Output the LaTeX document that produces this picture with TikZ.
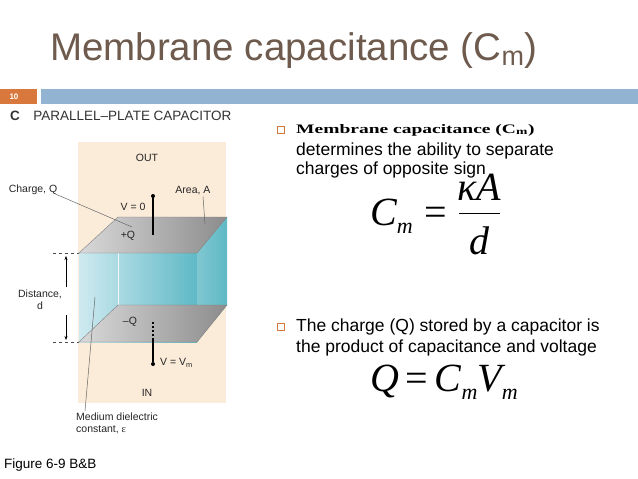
\documentclass[tikz,border=0pt]{standalone}
\usepackage{fontspec}
\setmainfont{Liberation Sans}
\newfontfamily\tnr{Liberation Serif}
\usetikzlibrary{arrows.meta}
\definecolor{titlec}{HTML}{6E5B4E}
\definecolor{orng}{HTML}{D9783C}
\definecolor{barblue}{HTML}{93B3D2}
\definecolor{beige}{HTML}{FBEBD9}
\definecolor{cyanA}{HTML}{CFEAF0}
\definecolor{cyanB}{HTML}{5FB9C6}
\newcommand{\mysub}[1]{\raisebox{-0.2em}{\fontsize{22}{24}\selectfont #1}}
\begin{document}
\begin{tikzpicture}[x=1pt,y=-1pt,
  lbl/.style={font=\fontsize{10.5}{12}\selectfont, inner sep=0pt, text=black!85},
  body/.style={font=\fontsize{17.5}{20}\selectfont, inner sep=0pt, anchor=west},
  bul/.style={draw=orng!70!brown, line width=0.6pt, minimum size=7pt, inner sep=0pt},
  leader/.style={draw=black!60, line width=0.5pt},
  eq/.style={inner sep=0pt, font=\tnr\itshape\fontsize{40}{44}\selectfont},
  plate/.style={draw=black!50, line width=0.4pt, left color=black!15, right color=black!45, middle color=black!30}]
\useasboundingbox (0,0) rectangle (638,479);
\fill[white] (0,0) rectangle (638,479);
% title
\node[anchor=base west, inner sep=0pt, text=titlec, font=\fontsize{38.5}{42}\selectfont] (title) at (50,60) {Membrane capacitance (C\textsubscript{m})};
\fill[orng] (0,89) rectangle (37,104);
\node[text=white, font=\fontsize{8}{9}\selectfont\bfseries, inner sep=0pt] (num) at (14,96.5) {10};
\fill[barblue] (41,89) rectangle (638,104);
% figure
\node[anchor=west, inner sep=0pt, font=\fontsize{13.5}{15}\selectfont, text=black!80] (cap) at (10,116) {\textbf{C}\quad PARALLEL--PLATE CAPACITOR};
\fill[beige] (78,142) rectangle (226,403);
\node[lbl] (out) at (147,158) {OUT};
\node[lbl] (in) at (147,393) {IN};
% box
\shade[left color=cyanA, right color=cyanB] (79,253) rectangle (197,342);
\shade[left color=cyanB!80, right color=cyanB] (197,253) -- (227,217) -- (227,305) -- (197,342) -- cycle;
\draw[white!70!cyanA, line width=0.4pt] (118,253) -- (118,305);
% bottom plate
\shade[plate] (118,305) -- (227,305) -- (197,342) -- (79,342) -- cycle;
\draw[line width=1.5pt, dash pattern=on 2pt off 2pt] (153,322) -- (153,340);
\draw[line width=1.5pt] (153,340) -- (153,362);
\fill (153,364) circle (2pt);
% top plate
\shade[plate] (118,217) -- (227,217) -- (197,253) -- (79,253) -- cycle;
\draw[line width=1.5pt] (153,196) -- (153,235);
\fill (153,196) circle (2pt);
% labels
\node[lbl] (charge) at (33,190) {Charge, Q};
\node[lbl] (area) at (193,191) {Area, A};
\node[lbl] (v0) at (133,207) {V = 0};
\node[lbl] (pq) at (128,236) {+Q};
\node[lbl] (mq) at (130,322) {--Q};
\node[lbl, anchor=west] (vm) at (160,363) {V = V\textsubscript{m}};
\node[lbl, align=center] (dist) at (40,300) {Distance,\\d};
\node[lbl, align=left, anchor=north west] (med) at (76,413) {Medium dielectric\\constant, {\tnr ε}};
\coordinate (cq) at (132,227);
\coordinate (ar) at (205,224);
\coordinate (md) at (95,297);
\draw[leader] (charge.east) ++(-2,4) -- (cq);
\draw[leader] (area.south) ++(10,1) -- (ar);
\draw[leader] (med.north west) ++(9,-2) -- (md);
\draw[black!70, dashed, line width=0.5pt] (53,253) -- (79,253);
\draw[black!70, dashed, line width=0.5pt] (53,342) -- (79,342);
\draw[-{Stealth[length=4pt]}, line width=0.5pt] (66,287) -- (66,256);
\draw[-{Stealth[length=4pt]}, line width=0.5pt] (66,315) -- (66,340);
\node[anchor=west, inner sep=0pt, font=\fontsize{13.5}{15}\selectfont] (figc) at (4,465) {Figure 6-9 B\&B};
% right text
\node[bul] (b1) at (281,130) {};
\node[anchor=west, inner sep=0pt, font=\tnr\fontsize{13}{15}\selectfont\bfseries] (t1) at (296,130) {\scalebox{1.5}[1]{Membrane capacitance (C\textsubscript{m})}};
\node[body] (t2) at (296,151) {determines the ability to separate};
\node[body] (t3) at (296,170) {charges of opposite sign};
\node[eq, anchor=base west] (cm) at (370,225) {C\mysub{m}};
\node[eq, anchor=base] (eq1) at (436,225) {\upshape =};
\node[eq, anchor=base] (ka) at (479,200) {κA};
\node[eq, anchor=base] (dd) at (479,254) {d};
\draw[line width=1pt] (459,213) -- (500,213);
\node[bul] (b2) at (281,327) {};
\node[body] (t4) at (296,327) {The charge (Q) stored by a capacitor is};
\node[body] (t5) at (296,348) {the product of capacitance and voltage};
\node[eq, anchor=base west] (f2) at (370,391) {Q\,{\upshape =}\,C\mysub{m}V\mysub{m}};
\end{tikzpicture}
\end{document}
